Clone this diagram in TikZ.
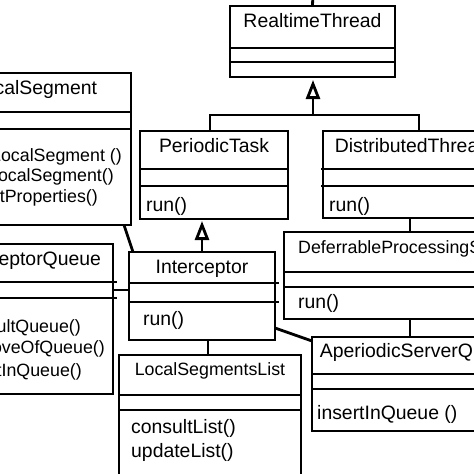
\documentclass[tikz,border=0pt]{standalone}
\usepackage{fontspec}
\setmainfont{Liberation Sans}
\usepackage{tikz}
\usetikzlibrary{
  % open triangle tips for the generalisations
  arrows.meta,%
  positioning
}
\tikzset{>=latex}
\tikzset{classbox/.style={rectangle, draw=black, fill=white, line width=2.8pt,
    inner sep=0pt, outer sep=0pt, anchor=north west}}
\tikzset{cline/.style={line width=2.8pt}}
\tikzset{ctitle/.style={anchor=base, inner sep=0pt,
    font=\fontsize{19.4pt}{23pt}\selectfont}}
\tikzset{ctitlesmall/.style={ctitle, font=\fontsize{17.8pt}{21pt}\selectfont}}
\tikzset{cop/.style={anchor=base west, inner sep=0pt,
    font=\fontsize{19.4pt}{23pt}\selectfont}}
\tikzset{copsmall/.style={anchor=base east, inner sep=0pt,
    font=\fontsize{17.8pt}{21pt}\selectfont}}
\tikzset{assoc/.style={line width=2.8pt}}
\tikzset{inherit/.style={line width=2.8pt,
    -{Triangle[open, length=19pt, width=14pt, line width=2.8pt]}}}

\begin{document}
\begin{tikzpicture}[x=1pt, y=-1pt]
          \useasboundingbox (0,0) rectangle (474,474);
          \fill[white] (0,0) rectangle (474,474);
          \clip (0,0) rectangle (474,474);
          \node[classbox, minimum width=165pt, minimum height=71pt] (rt) at (230,6) {};
          \node[classbox, minimum width=148pt, minimum height=88pt] (pt) at (140,131) {};
          \node[classbox, minimum width=178pt, minimum height=87pt] (dt) at (323,131) {};
          \node[classbox, minimum width=192pt, minimum height=152pt] (ls) at (-61,73) {};
          \node[classbox, minimum width=146pt, minimum height=88pt] (ic) at (129,252) {};
          \node[classbox, minimum width=175pt, minimum height=150pt] (iq) at (-62,244) {};
          \node[classbox, minimum width=182pt, minimum height=121pt] (ll) at (119,355) {};
          \node[classbox, minimum width=252pt, minimum height=87pt] (dp) at (284,232) {};
          \node[classbox, minimum width=212pt, minimum height=94pt] (aq) at (312,337) {};
            \draw[cline] ([yshift=-42pt]rt.north west) -- ([yshift=-42pt]rt.north east);
            \draw[cline] ([yshift=-56pt]rt.north west) -- ([yshift=-56pt]rt.north east);
            \draw[cline] ([yshift=-38pt]pt.north west) -- ([yshift=-38pt]pt.north east);
            \draw[cline] ([yshift=-55pt]pt.north west) -- ([yshift=-55pt]pt.north east);
            \draw[cline] ([xshift=-2pt,yshift=-38pt]dt.north west) -- ([yshift=-38pt]dt.north east);
            \draw[cline] ([xshift=-2pt,yshift=-55pt]dt.north west) -- ([yshift=-55pt]dt.north east);
            \draw[cline] ([yshift=-39pt]ls.north west) -- ([yshift=-39pt]ls.north east);
            \draw[cline] ([yshift=-56pt]ls.north west) -- ([yshift=-56pt]ls.north east);
            \draw[cline] ([yshift=-31pt]ic.north west) -- ([xshift=4pt,yshift=-31pt]ic.north east);
            \draw[cline] ([yshift=-50pt]ic.north west) -- ([xshift=4pt,yshift=-50pt]ic.north east);
            \draw[cline] ([yshift=-38pt]iq.north west) -- ([xshift=4pt,yshift=-38pt]iq.north east);
            \draw[cline] ([yshift=-54pt]iq.north west) -- ([xshift=4pt,yshift=-54pt]iq.north east);
            \draw[cline] ([yshift=-40pt]ll.north west) -- ([yshift=-40pt]ll.north east);
            \draw[cline] ([yshift=-55pt]ll.north west) -- ([yshift=-55pt]ll.north east);
            \draw[cline] ([yshift=-40pt]dp.north west) -- ([yshift=-40pt]dp.north east);
            \draw[cline] ([yshift=-55pt]dp.north west) -- ([yshift=-55pt]dp.north east);
            \draw[cline] ([yshift=-37pt]aq.north west) -- ([yshift=-37pt]aq.north east);
            \draw[cline] ([yshift=-52pt]aq.north west) -- ([yshift=-52pt]aq.north east);
          \node[ctitle] (rtname) at ([yshift=-21pt]rt.north) {RealtimeThread};
          \node[ctitle] (ptname) at ([yshift=-21pt]pt.north) {PeriodicTask};
          \node[ctitle] (dtname) at ([yshift=-21pt]dt.north) {DistributedThread};
          \node[ctitle] (lsname) at ([yshift=-21pt]ls.north) {LocalSegment};
          \node[ctitle] (icname) at ([yshift=-21pt]ic.north) {Interceptor};
          \node[ctitle] (iqname) at ([yshift=-21pt]iq.north) {InterceptorQueue};
          \node[ctitlesmall] (llname) at ([yshift=-20pt]ll.north) {LocalSegmentsList};
          \node[ctitlesmall] (dpname) at ([yshift=-21pt]dp.north) {DeferrableProcessingServer};
          \node[ctitle] (aqname) at ([yshift=-20pt]aq.north) {AperiodicServerQueue};
          \node[cop] (ptrun) at ([xshift=6pt,yshift=-80pt]pt.north west) {run()};
          \node[cop] (dtrun) at ([xshift=6pt,yshift=-80pt]dt.north west) {run()};
          \node[cop] (icrun) at ([xshift=14pt,yshift=-73pt]ic.north west) {run()};
          \node[cop] (dprun) at ([xshift=14pt,yshift=-76pt]dp.north west) {run()};
          \node[cop] (llconsult) at ([xshift=12pt,yshift=-78pt]ll.north west) {consultList()};
          \node[cop] (llupdate) at ([xshift=12pt,yshift=-102pt]ll.north west) {updateList()};
          \node[cop] (aqinsert) at ([xshift=5pt,yshift=-82pt]aq.north west) {insertInQueue ()};
          \node[copsmall] (lscreate) at ([xshift=-9pt,yshift=-88pt]ls.north east) {createLocalSegment ()};
          \node[copsmall] (lsdelete) at ([xshift=-17pt,yshift=-108pt]ls.north east) {deleteLocalSegment()};
          \node[copsmall] (lsprops) at ([xshift=-33pt,yshift=-129pt]ls.north east) {setProperties()};
          \node[copsmall] (iqconsult) at ([xshift=-32pt,yshift=-88pt]iq.north east) {consultQueue()};
          \node[copsmall] (iqremove) at ([xshift=-8pt,yshift=-109pt]iq.north east) {removeOfQueue()};
          \node[copsmall] (iqinsert) at ([xshift=-31pt,yshift=-132pt]iq.north east) {insertInQueue()};
          \coordinate (up) at (313,-10);
          \coordinate (j0) at (313,115);
          \coordinate (j1) at (210,115);
          \coordinate (j2) at (419,115);
          \coordinate (a1) at ([yshift=-38pt]ic.north west);
          \coordinate (a2) at ([xshift=6pt]ic.south);
          \draw[assoc] (rt.north) -- (up);
          \draw[inherit, shorten >=3pt] (j0) -- (j0 |- rt.south);
          \draw[assoc] (pt.north -| j1) -- (j1) -- (j2) -- (dt.north -| j2);
          \draw[inherit, shorten >=2pt] (ic.north) -- (ic.north |- pt.south);
          \draw[assoc] (dp.north) -- (dp.north |- dt.south);
          \draw[assoc] (dp.south) -- (dp.south |- aq.north);
          \draw[assoc] ([xshift=-7pt]ls.south east) -- ([xshift=4pt]ic.north west);
          \draw[assoc] (a1) -- (a1 -| iq.east);
          \draw[assoc] ([yshift=12pt]ic.south east) -- ([yshift=-4pt]aq.north west);
          \draw[assoc] (a2) -- (a2 |- ll.north);
        \end{tikzpicture}
\end{document}
